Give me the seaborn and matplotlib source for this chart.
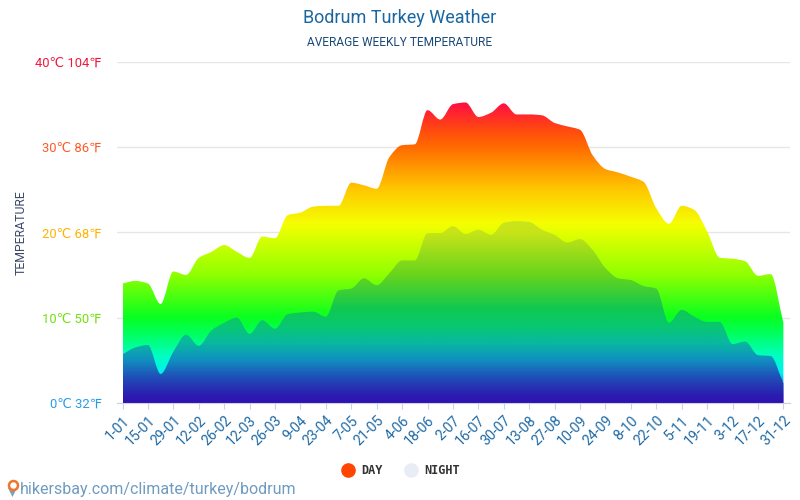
import numpy as np
import pandas as pd
import matplotlib
matplotlib.use("Agg")
import matplotlib.pyplot as plt
import seaborn as sns
from matplotlib.colors import LinearSegmentedColormap
from matplotlib.lines import Line2D
from matplotlib.patches import PathPatch, Polygon
from matplotlib.path import Path

# weekly averages in C
day_temps = [14.0, 14.3, 14.0, 11.6, 15.4, 15.0, 17.0, 17.7, 18.5, 17.7, 17.0, 19.5, 19.3,
             22.0, 22.3, 23.0, 23.1, 23.1, 25.8, 25.5, 25.1, 28.8, 30.2, 30.3, 34.3, 33.2,
             35.0, 35.2, 33.5, 34.0, 35.1, 33.8, 33.8, 33.7, 32.8, 32.4, 32.0, 29.0, 27.4,
             27.0, 26.5, 25.9, 22.8, 21.0, 23.1, 22.6, 20.1, 17.0, 16.9, 16.6, 14.9, 15.1, 9.4]
night_temps = [5.7, 6.5, 6.8, 3.4, 6.0, 8.0, 6.7, 8.5, 9.4, 10.0, 8.1, 9.7, 8.7,
               10.4, 10.6, 10.7, 10.1, 13.2, 13.4, 14.6, 13.8, 15.2, 16.7, 16.7, 19.9, 19.9,
               20.7, 19.8, 20.3, 19.7, 21.1, 21.3, 21.2, 20.3, 19.7, 18.8, 19.2, 17.9, 15.8,
               14.6, 14.4, 13.7, 13.4, 9.4, 10.9, 10.1, 9.5, 9.5, 6.9, 7.2, 5.6, 5.5, 2.3]
date_labels = ["1-01", "15-01", "29-01", "12-02", "26-02", "12-03", "26-03", "9-04", "23-04",
               "7-05", "21-05", "4-06", "18-06", "2-07", "16-07", "30-07", "13-08", "27-08",
               "10-09", "24-09", "8-10", "22-10", "5-11", "19-11", "3-12", "17-12", "31-12"]
temp_ticks = [0, 10, 20, 30, 40]
temp_labels = ["0℃ 32℉", "10℃ 50℉", "20℃ 68℉", "30℃ 86℉", "40℃ 104℉"]
temp_colors = ["#2a9be8", "#72e010", "#ffb400", "#ff5a28", "#f0183c"]

# gradient stops: temperature, colour
day_stops = [(0, "#3010b0"), (1.5, "#1060d8"), (3.4, "#00f0f0"), (5.5, "#00ffc0"), (8, "#00ff60"),
             (10, "#08ff20"), (15, "#90ff00"), (21, "#f5ff00"), (25, "#ffc800"), (30, "#ff6a00"),
             (32, "#ff4a10"), (35, "#ff1040"), (40, "#ff0060")]
night_stops = [(0, "#3010b0"), (1, "#2a20b0"), (3, "#2050b8"), (5, "#1090c0"), (7, "#08b8a0"),
               (9, "#08c870"), (11, "#10c850"), (15, "#68d41c"), (20, "#c8e418"), (40, "#e8f040")]

sns.set_theme(style="white")
plt.rcParams["font.family"] = ["Roboto", "DejaVu Sans"]


def make_cmap(stops):
    return LinearSegmentedColormap.from_list("temp", [(t / 40, c) for t, c in stops])


def smooth_area(xy):
    # monotone cubic through the points, closed along the zero line
    x, y = xy[:, 0], xy[:, 1]
    h = np.diff(x)
    s = np.diff(y) / h
    m = np.zeros(len(x))
    for i in range(1, len(x) - 1):
        if s[i - 1] * s[i] > 0:
            m[i] = 2 * s[i - 1] * s[i] / (s[i - 1] + s[i])
    m[0] = s[0]
    m[-1] = s[-1]
    verts = [(x[0], 0), (x[0], y[0])]
    codes = [Path.MOVETO, Path.LINETO]
    for i in range(len(x) - 1):
        verts += [(x[i] + h[i] / 3, y[i] + m[i] * h[i] / 3),
                  (x[i + 1] - h[i] / 3, y[i + 1] - m[i + 1] * h[i] / 3),
                  (x[i + 1], y[i + 1])]
        codes += [Path.CURVE4] * 3
    verts += [(x[-1], 0), (x[0], 0)]
    codes += [Path.LINETO, Path.CLOSEPOLY]
    return Path(verts, codes)


df = pd.DataFrame({"week": range(len(day_temps)), "day": day_temps, "night": night_temps})
long_df = df.melt(id_vars="week", var_name="series", value_name="temp")

fig = plt.figure(figsize=(8, 5), dpi=100)
ax = fig.add_axes([117 / 800, 1 - 403 / 500, 673 / 800, 341.5 / 500])

# lines carry the scales, the visible marks are the gradient areas under them
sns.lineplot(data=long_df, x="week", y="temp", hue="series", hue_order=["day", "night"],
             linewidth=0, legend=False, ax=ax)

xlim = (-0.433, 52.52)
ylim = (0, 40)
gradient = np.linspace(0, 1, 512).reshape(-1, 1)
for line, stops in zip(ax.lines[:2], [day_stops, night_stops]):
    im = ax.imshow(gradient, cmap=make_cmap(stops), origin="lower", aspect="auto",
                   extent=(0, 52, 0, 40), zorder=2)
    im.set_clip_path(PathPatch(smooth_area(line.get_xydata()), transform=ax.transData))

ax.set_xlim(xlim)
ax.set_ylim(ylim)

ax.set_yticks(temp_ticks)
ax.set_yticklabels(temp_labels, fontsize=9.4)
for lab, col in zip(ax.get_yticklabels(), temp_colors):
    lab.set_color(col)
ax.tick_params(axis="y", left=False, pad=5)
ax.grid(axis="y", color="#e6e6e6", linewidth=1)
ax.set_axisbelow(True)

ax.set_xticks(np.arange(0, 53, 2))
ax.set_xticklabels(date_labels, rotation=45, ha="right", rotation_mode="anchor",
                   fontsize=10.2, color="#1f6aa5")
ax.tick_params(axis="x", bottom=True, length=4.5, width=0.8, color="#c8d4e6", pad=3)

for side in ["top", "left", "right"]:
    ax.spines[side].set_visible(False)
ax.spines["bottom"].set_color("#c8d4e6")
ax.spines["bottom"].set_linewidth(0.8)
ax.set_xlabel("")
ax.set_ylabel("")

fig.text(0.5, 1 - 18 / 500, "Bodrum Turkey Weather", ha="center", va="center",
         fontsize=13, color="#1a66a0")
fig.text(0.5, 1 - 42 / 500, "AVERAGE WEEKLY TEMPERATURE", ha="center", va="center",
         fontsize=8.6, color="#1a4a78")
fig.text(21 / 800, 1 - 232.5 / 500, "TEMPERATURE", rotation=90, ha="center", va="center",
         fontsize=8.8, color="#3b4a6b")

handles = [Line2D([], [], linestyle="", marker="o", markersize=9.5, color="#ff4500", label="DAY"),
           Line2D([], [], linestyle="", marker="o", markersize=9.5, color="#e8edf5", label="NIGHT")]
leg = fig.legend(handles=handles, ncol=2, loc="center", bbox_to_anchor=(398 / 800, 1 - 471 / 500),
                 frameon=False, handletextpad=0.15, columnspacing=1.35,
                 prop={"family": "DejaVu Sans Mono", "weight": "bold", "size": 8.6})
for txt in leg.get_texts():
    txt.set_color("#333333")


def to_fig(px, py):
    return (px / 800, 1 - py / 500)


# site pin and address
fig.add_artist(Polygon([to_fig(8, 488), to_fig(17, 488), to_fig(12.5, 497)],
                       transform=fig.transFigure, facecolor="#7f9fb5", edgecolor="none"))
fig.add_artist(Line2D([12.5 / 800], [1 - 485 / 500], marker="o", markersize=6.5,
                      markerfacecolor="#ffffff", markeredgecolor="#f0762a", markeredgewidth=1.8,
                      linestyle="", transform=fig.transFigure))
fig.text(20 / 800, 1 - 489.5 / 500, "hikersbay.com/climate/turkey/bodrum", ha="left", va="center",
         fontsize=11.5, color="#6f9bc0")

fig.savefig("out.png", dpi=100)
